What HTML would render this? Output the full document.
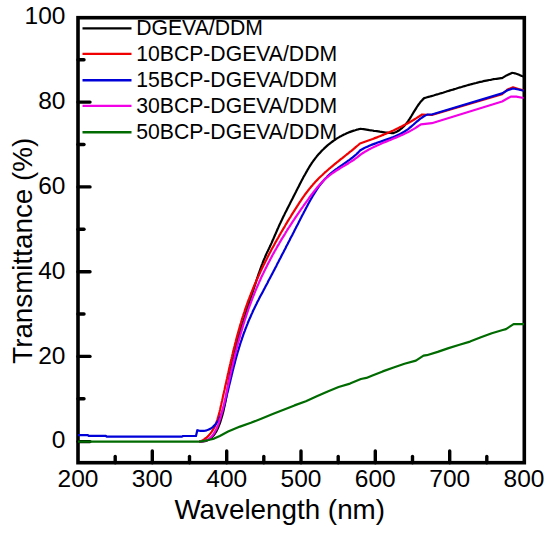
<!DOCTYPE html>
<html><head><meta charset="utf-8"><style>
html,body{margin:0;padding:0;background:#fff;width:550px;height:533px;overflow:hidden}
svg{display:block}
text{font-family:"Liberation Sans",sans-serif;fill:#000}
.tk{font-size:24.5px}
.lg{font-size:21.2px}
.ax{font-size:27.8px}
</style></head><body>
<svg width="550" height="533" viewBox="0 0 550 533">
<g stroke="#000" fill="none" stroke-linecap="round">
<line x1="152.3" y1="462.7" x2="152.3" y2="451" stroke-width="3.4"/><line x1="226.7" y1="462.7" x2="226.7" y2="451" stroke-width="3.4"/><line x1="301.0" y1="462.7" x2="301.0" y2="451" stroke-width="3.4"/><line x1="375.3" y1="462.7" x2="375.3" y2="451" stroke-width="3.4"/><line x1="449.7" y1="462.7" x2="449.7" y2="451" stroke-width="3.4"/><line x1="115.2" y1="462.7" x2="115.2" y2="456.5" stroke-width="3.4"/><line x1="189.5" y1="462.7" x2="189.5" y2="456.5" stroke-width="3.4"/><line x1="263.8" y1="462.7" x2="263.8" y2="456.5" stroke-width="3.4"/><line x1="338.2" y1="462.7" x2="338.2" y2="456.5" stroke-width="3.4"/><line x1="412.5" y1="462.7" x2="412.5" y2="456.5" stroke-width="3.4"/><line x1="486.8" y1="462.7" x2="486.8" y2="456.5" stroke-width="3.4"/><line x1="78" y1="441.6" x2="90" y2="441.6" stroke-width="3.4"/><line x1="78" y1="356.4" x2="90" y2="356.4" stroke-width="3.4"/><line x1="78" y1="271.7" x2="90" y2="271.7" stroke-width="3.4"/><line x1="78" y1="186.9" x2="90" y2="186.9" stroke-width="3.4"/><line x1="78" y1="102.1" x2="90" y2="102.1" stroke-width="3.4"/><line x1="78" y1="398.8" x2="84" y2="398.8" stroke-width="3.4"/><line x1="78" y1="314.0" x2="84" y2="314.0" stroke-width="3.4"/><line x1="78" y1="229.3" x2="84" y2="229.3" stroke-width="3.4"/><line x1="78" y1="144.5" x2="84" y2="144.5" stroke-width="3.4"/><line x1="78" y1="59.7" x2="84" y2="59.7" stroke-width="3.4"/>
<rect x="78" y="17.7" width="446.3" height="445" stroke-width="3.6" stroke-linecap="butt" stroke-linejoin="miter"/>
<line x1="82.5" y1="28.4" x2="131.5" y2="28.4" stroke="#000000" stroke-width="2.4" stroke-linecap="butt"/><line x1="82.5" y1="53.9" x2="131.5" y2="53.9" stroke="#f00000" stroke-width="2.4" stroke-linecap="butt"/><line x1="82.5" y1="80.2" x2="131.5" y2="80.2" stroke="#0000d8" stroke-width="2.4" stroke-linecap="butt"/><line x1="82.5" y1="105.9" x2="131.5" y2="105.9" stroke="#f200e6" stroke-width="2.4" stroke-linecap="butt"/><line x1="82.5" y1="132.3" x2="131.5" y2="132.3" stroke="#006b00" stroke-width="2.4" stroke-linecap="butt"/>
</g>
<g fill="none" stroke-linejoin="round" stroke-linecap="butt" stroke-width="2.2">
<polyline points="199.0,441.7 200.0,441.7 201.7,441.6 203.4,441.4 204.9,441.1 206.4,440.6 207.7,440.1 209.0,439.4 210.2,438.6 211.3,437.8 212.3,436.8 213.2,435.8 214.1,434.7 215.0,433.5 215.7,432.3 216.5,431.1 217.1,429.7 217.8,428.4 218.4,427.0 218.9,425.6 219.5,424.2 220.0,422.8 220.5,421.3 220.9,419.9 221.4,418.5 221.8,417.0 222.2,415.6 222.6,414.1 223.0,412.7 223.4,411.2 223.7,409.7 224.0,408.3 224.4,406.8 224.7,405.3 225.0,403.9 225.3,402.4 225.6,400.9 225.8,399.4 226.1,398.0 226.3,396.5 226.6,395.0 226.8,393.5 227.1,392.0 227.3,390.5 227.6,389.0 227.8,387.6 228.0,386.1 228.2,384.6 228.5,383.1 228.7,381.6 228.9,380.1 229.2,378.6 229.4,377.1 229.6,375.7 229.9,374.2 230.1,372.7 230.4,371.2 230.7,369.7 230.9,368.3 231.2,366.8 231.5,365.3 231.8,363.9 232.1,362.4 232.4,360.9 232.8,359.5 233.1,358.0 233.4,356.5 233.8,355.1 234.1,353.6 234.5,352.2 234.8,350.7 235.2,349.3 235.5,347.8 235.9,346.4 236.3,344.9 236.7,343.5 237.1,342.0 237.5,340.6 237.9,339.1 238.3,337.7 238.7,336.3 239.1,334.8 239.5,333.4 240.0,332.0 240.4,330.5 240.8,329.1 241.2,327.6 241.7,326.2 242.1,324.8 242.6,323.3 243.0,321.9 243.5,320.5 243.9,319.1 244.4,317.6 244.8,316.2 245.3,314.8 245.7,313.3 246.2,311.9 246.7,310.5 247.1,309.1 247.6,307.6 248.0,306.2 248.5,304.8 249.0,303.4 249.4,301.9 249.9,300.5 250.4,299.1 250.8,297.7 251.3,296.2 251.8,294.8 252.2,293.4 252.7,292.0 253.2,290.5 253.6,289.1 254.1,287.7 254.6,286.2 255.0,284.8 255.5,283.4 256.0,282.0 256.4,280.5 256.9,279.1 257.4,277.7 257.8,276.3 258.3,274.9 258.8,273.4 259.3,272.0 259.8,270.6 260.3,269.2 260.8,267.8 261.3,266.4 261.8,265.0 262.4,263.6 262.9,262.2 263.5,260.8 264.0,259.4 264.6,258.1 265.2,256.7 265.8,255.3 266.4,253.9 267.0,252.6 267.7,251.2 268.3,249.9 269.0,248.5 269.6,247.2 270.2,245.8 270.9,244.4 271.5,243.1 272.1,241.7 272.7,240.3 273.3,239.0 273.9,237.6 274.5,236.2 275.1,234.8 275.7,233.5 276.3,232.1 276.9,230.7 277.5,229.3 278.1,228.0 278.7,226.6 279.3,225.2 279.9,223.9 280.6,222.5 281.2,221.2 281.9,219.8 282.5,218.5 283.2,217.1 283.8,215.8 284.5,214.4 285.1,213.1 285.8,211.8 286.5,210.4 287.2,209.1 287.8,207.7 288.5,206.4 289.2,205.1 289.9,203.7 290.5,202.4 291.2,201.1 291.9,199.7 292.6,198.4 293.3,197.1 293.9,195.7 294.6,194.4 295.3,193.1 296.0,191.7 296.6,190.4 297.3,189.1 298.0,187.7 298.7,186.4 299.4,185.1 300.0,183.7 300.7,182.4 301.4,181.1 302.1,179.7 302.8,178.4 303.5,177.1 304.2,175.8 305.0,174.5 305.7,173.2 306.4,171.9 307.2,170.6 307.9,169.3 308.7,168.0 309.5,166.7 310.3,165.4 311.1,164.2 311.9,162.9 312.8,161.7 313.6,160.5 314.5,159.3 315.4,158.1 316.4,156.9 317.3,155.7 318.3,154.6 319.3,153.5 320.3,152.4 321.3,151.3 322.3,150.2 323.4,149.2 324.5,148.1 325.6,147.1 326.7,146.1 327.8,145.1 329.0,144.2 330.1,143.3 331.3,142.4 332.5,141.5 333.7,140.6 335.0,139.8 336.2,138.9 337.5,138.1 338.8,137.4 340.0,136.6 341.4,135.9 342.7,135.2 344.0,134.5 345.4,133.9 346.7,133.3 348.1,132.7 349.5,132.1 350.9,131.6 352.3,131.1 353.8,130.6 355.2,130.2 356.7,129.7 358.1,129.4 359.6,129.0 360.5,128.8 362.0,129.0 363.5,129.2 365.0,129.4 366.4,129.6 367.9,129.8 369.4,130.1 370.9,130.3 372.4,130.5 373.9,130.8 375.3,131.0 376.8,131.2 378.3,131.4 379.8,131.7 381.3,131.9 382.8,132.1 384.2,132.3 385.7,132.5 387.2,132.6 388.7,132.8 390.2,133.0 391.7,133.1 393.2,133.2 393.2,133.2 394.7,132.6 396.1,132.0 397.5,131.3 398.8,130.5 400.0,129.6 401.2,128.7 402.3,127.8 403.4,126.8 404.4,125.7 405.4,124.6 406.3,123.5 407.2,122.3 408.1,121.1 408.9,119.9 409.8,118.6 410.6,117.3 411.4,116.0 412.1,114.8 412.9,113.5 413.7,112.2 414.5,110.9 415.3,109.6 416.1,108.3 416.9,107.0 417.7,105.8 418.6,104.5 419.5,103.3 420.4,102.1 421.4,101.0 422.4,99.9 423.4,98.9 424.2,98.1 425.6,97.7 427.1,97.3 428.5,96.9 430.0,96.5 431.4,96.1 432.9,95.7 434.3,95.3 435.7,94.8 437.2,94.4 438.6,94.0 440.0,93.5 441.5,93.1 442.9,92.7 444.4,92.2 445.8,91.8 447.2,91.3 448.7,90.9 450.1,90.4 451.5,90.0 453.0,89.6 454.4,89.1 455.8,88.7 457.3,88.2 458.7,87.8 460.1,87.4 461.6,87.0 463.0,86.5 464.5,86.1 465.9,85.7 467.4,85.3 468.8,84.9 470.2,84.5 471.7,84.1 473.1,83.7 474.6,83.3 476.0,83.0 477.5,82.6 478.9,82.2 480.4,81.9 481.9,81.6 483.3,81.2 484.8,80.9 486.3,80.6 487.7,80.3 489.2,80.0 490.7,79.8 492.1,79.5 493.6,79.2 495.1,79.0 496.6,78.8 498.1,78.6 499.6,78.4 501.1,78.2 502.1,78.1 506.5,75.4 511.9,72.9 513.4,73.0 514.9,73.3 516.3,73.7 517.7,74.2 519.1,74.8 520.5,75.4 521.9,76.0 523.3,76.4 523.5,76.5" stroke="#000"/>
<polyline points="199.0,441.7 200.0,441.7 201.4,441.0 202.8,440.2 204.1,439.4 205.3,438.5 206.5,437.6 207.6,436.6 208.6,435.6 209.6,434.5 210.5,433.4 211.3,432.3 212.1,431.1 212.9,429.9 213.6,428.7 214.3,427.4 214.9,426.2 215.5,424.8 216.0,423.5 216.5,422.1 217.0,420.7 217.5,419.3 217.9,417.9 218.3,416.5 218.7,415.1 219.1,413.6 219.5,412.1 219.8,410.7 220.2,409.2 220.5,407.7 220.8,406.2 221.2,404.8 221.5,403.3 221.8,401.8 222.2,400.3 222.5,398.9 222.8,397.4 223.1,395.9 223.5,394.4 223.8,392.9 224.1,391.5 224.5,390.0 224.8,388.5 225.1,387.0 225.4,385.6 225.8,384.1 226.1,382.6 226.4,381.2 226.7,379.7 227.1,378.2 227.4,376.7 227.7,375.3 228.0,373.8 228.4,372.3 228.7,370.9 229.0,369.4 229.4,367.9 229.7,366.5 230.0,365.0 230.4,363.5 230.7,362.1 231.0,360.6 231.4,359.1 231.7,357.7 232.1,356.2 232.4,354.8 232.8,353.3 233.1,351.8 233.5,350.4 233.8,348.9 234.2,347.5 234.6,346.0 234.9,344.6 235.3,343.1 235.7,341.7 236.0,340.2 236.4,338.8 236.8,337.3 237.2,335.9 237.6,334.4 238.0,333.0 238.4,331.6 238.8,330.1 239.2,328.7 239.6,327.3 240.0,325.8 240.4,324.4 240.9,323.0 241.3,321.5 241.7,320.1 242.2,318.7 242.6,317.2 243.1,315.8 243.5,314.4 244.0,313.0 244.5,311.6 244.9,310.2 245.4,308.7 245.9,307.3 246.4,305.9 246.9,304.5 247.4,303.1 247.9,301.7 248.4,300.3 249.0,298.9 249.5,297.5 250.0,296.1 250.6,294.7 251.1,293.3 251.7,291.9 252.2,290.6 252.8,289.2 253.4,287.8 253.9,286.4 254.5,285.0 255.1,283.6 255.7,282.3 256.3,280.9 256.9,279.5 257.5,278.2 258.1,276.8 258.8,275.4 259.4,274.1 260.0,272.7 260.6,271.3 261.3,270.0 261.9,268.6 262.6,267.3 263.2,265.9 263.9,264.6 264.6,263.2 265.2,261.9 265.9,260.5 266.6,259.2 267.3,257.8 267.9,256.5 268.6,255.2 269.3,253.8 270.0,252.5 270.7,251.2 271.4,249.8 272.1,248.5 272.9,247.2 273.6,245.9 274.3,244.6 275.0,243.2 275.7,241.9 276.5,240.6 277.2,239.3 278.0,238.0 278.7,236.7 279.4,235.4 280.2,234.1 280.9,232.8 281.7,231.5 282.5,230.2 283.2,228.9 284.0,227.6 284.8,226.3 285.5,225.0 286.3,223.7 287.1,222.4 287.8,221.1 288.6,219.8 289.4,218.5 290.2,217.3 291.0,216.0 291.8,214.7 292.6,213.4 293.4,212.2 294.2,210.9 295.0,209.6 295.8,208.4 296.6,207.1 297.4,205.8 298.2,204.6 299.0,203.3 299.8,202.1 300.7,200.8 301.5,199.6 302.3,198.4 303.2,197.1 304.1,195.9 304.9,194.7 305.8,193.5 306.7,192.3 307.6,191.2 308.5,190.0 309.4,188.8 310.4,187.7 311.3,186.5 312.3,185.4 313.2,184.3 314.2,183.2 315.2,182.1 316.2,181.0 317.3,179.9 318.3,178.8 319.3,177.8 320.4,176.7 321.5,175.7 322.6,174.7 323.6,173.7 324.7,172.7 325.9,171.7 327.0,170.7 328.1,169.7 329.2,168.7 330.4,167.8 331.5,166.8 332.7,165.8 333.8,164.9 335.0,163.9 336.2,163.0 337.3,162.0 338.5,161.1 339.7,160.1 340.8,159.2 342.0,158.3 343.2,157.3 344.4,156.4 345.5,155.5 346.7,154.5 347.9,153.6 349.1,152.6 350.2,151.7 351.4,150.8 352.6,149.8 353.7,148.9 354.9,147.9 356.0,146.9 357.1,146.0 358.3,145.0 359.4,144.0 360.0,143.5 361.4,143.0 362.8,142.5 364.2,142.0 365.6,141.5 367.0,141.0 368.4,140.5 369.9,140.0 371.3,139.5 372.7,139.0 374.1,138.4 375.5,137.9 376.9,137.4 378.3,136.8 379.7,136.3 381.1,135.7 382.5,135.1 383.8,134.6 385.2,134.0 386.6,133.4 388.0,132.8 389.4,132.2 390.8,131.6 392.1,131.0 393.5,130.4 394.9,129.7 396.2,129.1 397.6,128.4 398.9,127.8 400.3,127.1 401.6,126.5 402.9,125.8 404.3,125.1 405.6,124.4 406.9,123.7 408.2,123.0 409.5,122.2 410.8,121.5 412.1,120.7 413.4,120.0 414.7,119.2 416.0,118.4 417.2,117.6 418.5,116.8 419.7,116.0 421.0,115.2 422.0,114.5 431.8,115.0 502.1,94.3 507.5,89.5 513.0,87.4 518.5,89.0 523.5,90.2" stroke="#f00000"/>
<polyline points="78.0,435.2 88.0,435.2 88.5,435.9 106.0,435.9 106.5,436.6 182.0,436.6 183.0,436.0 196.0,436.0 197.3,430.2 199.0,430.6 200.7,430.8 202.3,430.9 203.8,430.8 205.3,430.6 206.7,430.3 208.1,429.8 209.4,429.2 210.7,428.6 211.8,427.8 213.0,426.9 214.0,425.9 215.0,424.9 216.0,423.8 216.8,422.6 217.7,421.4 218.4,420.2 219.1,418.9 219.8,417.5 220.4,416.2 221.0,414.8 221.6,413.4 222.1,412.0 222.6,410.6 223.1,409.2 223.5,407.7 224.0,406.3 224.4,404.8 224.8,403.3 225.2,401.9 225.5,400.4 225.9,399.0 226.3,397.5 226.6,396.0 227.0,394.6 227.3,393.1 227.7,391.6 228.1,390.2 228.4,388.7 228.8,387.2 229.1,385.8 229.5,384.3 229.8,382.9 230.2,381.4 230.5,380.0 230.9,378.5 231.2,377.1 231.6,375.6 231.9,374.1 232.3,372.7 232.6,371.2 233.0,369.8 233.4,368.4 233.7,366.9 234.1,365.5 234.5,364.0 234.9,362.6 235.2,361.1 235.6,359.7 236.0,358.2 236.4,356.8 236.8,355.4 237.2,353.9 237.6,352.5 238.0,351.1 238.5,349.6 238.9,348.2 239.3,346.8 239.8,345.3 240.2,343.9 240.7,342.5 241.2,341.0 241.7,339.6 242.1,338.2 242.6,336.8 243.1,335.4 243.6,333.9 244.1,332.5 244.7,331.1 245.2,329.7 245.7,328.3 246.3,326.9 246.8,325.5 247.4,324.1 247.9,322.7 248.5,321.3 249.1,319.9 249.7,318.5 250.3,317.2 250.9,315.8 251.5,314.4 252.1,313.1 252.7,311.7 253.3,310.3 254.0,309.0 254.6,307.7 255.3,306.3 255.9,305.0 256.6,303.7 257.2,302.3 257.9,301.0 258.6,299.7 259.2,298.4 259.9,297.1 260.6,295.8 261.3,294.5 262.0,293.2 262.7,291.9 263.4,290.6 264.1,289.2 264.8,287.9 265.5,286.6 266.2,285.3 266.9,284.0 267.6,282.7 268.2,281.3 268.9,280.0 269.6,278.7 270.3,277.4 271.0,276.1 271.7,274.7 272.4,273.4 273.1,272.1 273.8,270.7 274.5,269.4 275.2,268.1 275.9,266.8 276.6,265.4 277.2,264.1 277.9,262.8 278.6,261.5 279.3,260.1 280.0,258.8 280.7,257.5 281.4,256.1 282.0,254.8 282.7,253.5 283.4,252.2 284.1,250.8 284.8,249.5 285.5,248.2 286.1,246.8 286.8,245.5 287.5,244.2 288.2,242.8 288.9,241.5 289.6,240.2 290.2,238.8 290.9,237.5 291.6,236.2 292.3,234.9 293.0,233.5 293.7,232.2 294.3,230.9 295.0,229.5 295.7,228.2 296.4,226.8 297.1,225.5 297.8,224.2 298.5,222.8 299.1,221.5 299.8,220.2 300.5,218.8 301.2,217.5 301.9,216.1 302.6,214.8 303.3,213.5 304.0,212.1 304.7,210.8 305.4,209.4 306.1,208.1 306.8,206.8 307.5,205.4 308.2,204.1 308.9,202.8 309.6,201.4 310.4,200.1 311.1,198.8 311.9,197.5 312.6,196.2 313.4,194.9 314.2,193.6 315.0,192.4 315.8,191.1 316.6,189.9 317.4,188.6 318.3,187.4 319.1,186.2 320.0,185.0 320.9,183.8 321.8,182.7 322.8,181.5 323.7,180.4 324.7,179.3 325.7,178.2 326.8,177.2 327.8,176.1 328.9,175.1 330.0,174.1 331.1,173.1 332.3,172.2 333.4,171.3 334.6,170.4 335.8,169.5 337.1,168.6 338.3,167.7 339.5,166.8 340.8,165.9 342.0,165.1 343.3,164.2 344.5,163.4 345.8,162.5 347.0,161.6 348.2,160.7 349.5,159.8 350.7,158.9 351.9,158.0 353.0,157.1 354.2,156.1 355.3,155.2 356.4,154.2 357.5,153.1 358.6,152.1 359.6,151.0 360.0,150.5 361.3,149.7 362.6,149.0 363.9,148.3 365.2,147.6 366.6,147.0 367.9,146.4 369.3,145.8 370.7,145.2 372.1,144.6 373.5,144.1 374.9,143.6 376.3,143.1 377.8,142.5 379.2,142.0 380.6,141.6 382.1,141.1 383.5,140.6 384.9,140.1 386.3,139.6 387.8,139.1 389.2,138.6 390.6,138.1 392.0,137.5 393.4,137.0 394.8,136.4 396.2,135.8 397.5,135.2 398.9,134.6 400.2,133.9 401.5,133.2 402.8,132.5 404.1,131.8 405.3,131.0 406.6,130.1 407.8,129.3 409.0,128.4 410.1,127.4 411.3,126.5 412.4,125.5 413.6,124.5 414.7,123.5 415.8,122.5 416.9,121.5 418.1,120.6 419.2,119.6 420.4,118.7 421.6,117.9 422.8,117.0 424.0,116.3 425.2,115.6 426.5,114.9 427.5,114.5 431.8,114.5 502.1,93.4 507.5,90.3 513.0,88.5 518.5,89.5 523.5,90.7" stroke="#0000d8"/>
<polyline points="199.0,441.7 200.0,441.7 201.7,441.5 203.3,441.3 204.8,440.8 206.2,440.3 207.5,439.7 208.7,439.0 209.8,438.1 210.8,437.2 211.8,436.2 212.7,435.2 213.5,434.1 214.3,432.9 215.0,431.6 215.7,430.3 216.4,429.0 216.9,427.7 217.5,426.3 218.1,424.9 218.6,423.5 219.1,422.1 219.5,420.6 220.0,419.2 220.5,417.8 220.9,416.3 221.3,414.9 221.7,413.4 222.1,412.0 222.5,410.5 222.9,409.1 223.2,407.6 223.6,406.1 223.9,404.7 224.3,403.2 224.6,401.7 224.9,400.2 225.2,398.8 225.6,397.3 225.9,395.8 226.2,394.3 226.5,392.8 226.8,391.4 227.1,389.9 227.4,388.4 227.8,386.9 228.1,385.4 228.4,384.0 228.7,382.5 229.0,381.0 229.3,379.5 229.7,378.1 230.0,376.6 230.3,375.1 230.6,373.6 231.0,372.2 231.3,370.7 231.6,369.2 232.0,367.8 232.3,366.3 232.7,364.8 233.0,363.4 233.4,361.9 233.7,360.4 234.1,359.0 234.4,357.5 234.8,356.0 235.1,354.6 235.5,353.1 235.9,351.7 236.2,350.2 236.6,348.8 237.0,347.3 237.4,345.9 237.7,344.4 238.1,343.0 238.5,341.5 238.9,340.1 239.3,338.6 239.7,337.2 240.1,335.7 240.5,334.3 240.9,332.9 241.4,331.4 241.8,330.0 242.2,328.6 242.6,327.1 243.1,325.7 243.5,324.3 243.9,322.9 244.4,321.4 244.8,320.0 245.3,318.6 245.8,317.2 246.2,315.8 246.7,314.3 247.2,312.9 247.7,311.5 248.1,310.1 248.6,308.7 249.1,307.3 249.6,305.9 250.1,304.5 250.7,303.1 251.2,301.7 251.7,300.3 252.2,298.9 252.8,297.5 253.3,296.1 253.9,294.8 254.4,293.4 255.0,292.0 255.5,290.6 256.1,289.2 256.7,287.9 257.3,286.5 257.9,285.1 258.5,283.8 259.1,282.4 259.7,281.0 260.3,279.7 260.9,278.3 261.5,276.9 262.2,275.6 262.8,274.2 263.5,272.9 264.1,271.5 264.8,270.2 265.4,268.9 266.1,267.5 266.8,266.2 267.4,264.9 268.1,263.5 268.8,262.2 269.5,260.9 270.2,259.5 270.9,258.2 271.6,256.9 272.3,255.6 273.0,254.3 273.8,252.9 274.5,251.6 275.2,250.3 276.0,249.0 276.7,247.7 277.4,246.4 278.2,245.1 279.0,243.8 279.7,242.5 280.5,241.2 281.2,239.9 282.0,238.6 282.8,237.4 283.6,236.1 284.4,234.8 285.2,233.5 285.9,232.2 286.7,231.0 287.5,229.7 288.3,228.4 289.2,227.2 290.0,225.9 290.8,224.6 291.6,223.4 292.4,222.1 293.2,220.8 294.1,219.6 294.9,218.3 295.7,217.1 296.6,215.8 297.4,214.6 298.3,213.4 299.1,212.1 300.0,210.9 300.8,209.6 301.7,208.4 302.6,207.2 303.4,206.0 304.3,204.7 305.2,203.5 306.0,202.3 306.9,201.1 307.8,199.8 308.7,198.6 309.5,197.4 310.4,196.2 311.3,195.0 312.2,193.8 313.1,192.6 314.0,191.4 315.0,190.3 315.9,189.1 316.8,188.0 317.8,186.8 318.8,185.7 319.8,184.6 320.8,183.5 321.8,182.4 322.8,181.4 323.9,180.3 324.9,179.3 326.0,178.3 327.1,177.3 328.3,176.4 329.4,175.5 330.6,174.5 331.8,173.7 333.0,172.8 334.3,172.0 335.5,171.1 336.8,170.3 338.1,169.5 339.4,168.7 340.7,167.9 342.0,167.1 343.3,166.4 344.6,165.6 345.9,164.8 347.2,164.0 348.5,163.2 349.7,162.4 351.0,161.6 352.3,160.8 353.5,160.0 354.7,159.1 356.0,158.2 357.2,157.3 358.3,156.4 359.5,155.5 360.0,155.0 361.2,154.1 362.5,153.3 363.8,152.5 365.0,151.7 366.3,151.0 367.6,150.2 368.9,149.5 370.3,148.8 371.6,148.1 372.9,147.4 374.3,146.8 375.6,146.2 377.0,145.5 378.4,144.9 379.8,144.3 381.1,143.7 382.5,143.1 383.9,142.5 385.3,141.9 386.7,141.4 388.1,140.8 389.5,140.2 390.9,139.7 392.3,139.1 393.6,138.5 395.0,137.9 396.4,137.4 397.8,136.8 399.2,136.2 400.6,135.6 401.9,135.0 403.3,134.4 404.6,133.7 406.0,133.1 407.3,132.4 408.7,131.8 410.0,131.1 411.3,130.4 412.6,129.6 413.9,128.9 415.2,128.1 416.4,127.3 417.7,126.5 418.9,125.7 420.2,124.8 420.9,124.3 431.8,123.2 502.1,101.5 510.8,96.6 516.3,96.6 523.5,98.0" stroke="#f200e6"/>
<polyline points="78.0,441.7 200.0,441.7 208.5,440.0 214.1,438.6 219.8,435.9 228.1,431.6 240.0,426.6 250.9,422.8 261.8,418.5 272.7,414.1 283.6,409.7 294.5,405.4 305.9,401.2 316.8,396.3 327.7,391.4 338.6,387.0 350.0,383.6 360.9,379.0 366.4,377.9 371.8,375.7 382.7,371.4 393.6,367.5 404.5,363.8 415.9,360.6 423.5,355.7 426.8,355.2 437.7,351.9 448.6,348.1 459.5,344.8 470.0,341.6 480.9,337.3 491.8,333.2 502.7,330.0 506.0,329.1 513.6,324.2 519.1,324.0 524.0,324.2" stroke="#006b00"/>
</g>
<text x="65.5" y="448.3" text-anchor="end" class="tk">0</text><text x="65.5" y="363.5" text-anchor="end" class="tk">20</text><text x="65.5" y="278.8" text-anchor="end" class="tk">40</text><text x="65.5" y="194.0" text-anchor="end" class="tk">60</text><text x="65.5" y="109.2" text-anchor="end" class="tk">80</text><text x="65.5" y="24.4" text-anchor="end" class="tk">100</text><text x="78.0" y="487" text-anchor="middle" class="tk">200</text><text x="152.3" y="487" text-anchor="middle" class="tk">300</text><text x="226.7" y="487" text-anchor="middle" class="tk">400</text><text x="301.0" y="487" text-anchor="middle" class="tk">500</text><text x="375.3" y="487" text-anchor="middle" class="tk">600</text><text x="449.7" y="487" text-anchor="middle" class="tk">700</text><text x="524.0" y="487" text-anchor="middle" class="tk">800</text><text x="136.2" y="35.1" class="lg">DGEVA/DDM</text><text x="136.2" y="60.6" class="lg">10BCP-DGEVA/DDM</text><text x="136.2" y="86.9" class="lg">15BCP-DGEVA/DDM</text><text x="136.2" y="112.6" class="lg">30BCP-DGEVA/DDM</text><text x="136.2" y="139.0" class="lg">50BCP-DGEVA/DDM</text>
<text x="279.7" y="518.8" text-anchor="middle" class="ax">Wavelength (nm)</text>
<text transform="translate(32,250.8) rotate(-90)" text-anchor="middle" class="ax">Transmittance (%)</text>
</svg>
</body></html>
